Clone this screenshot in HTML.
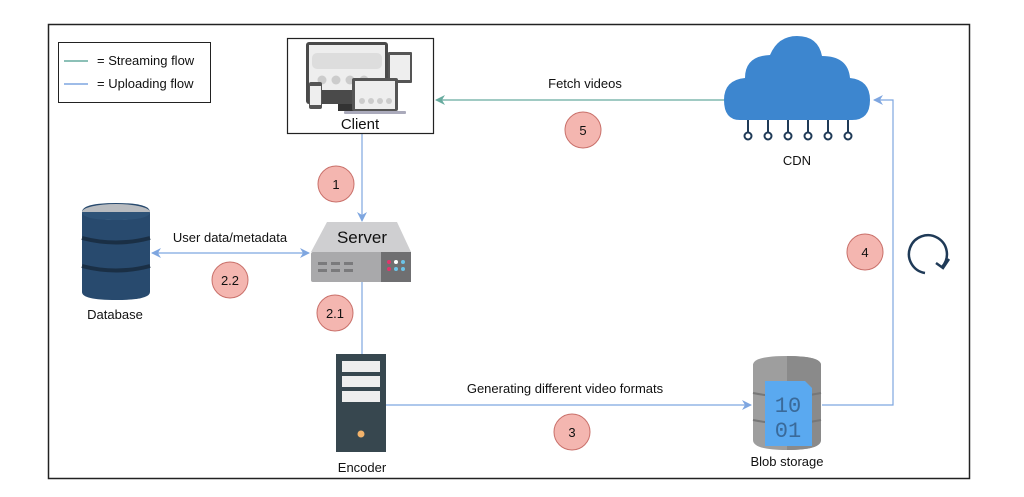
<!DOCTYPE html>
<html><head><meta charset="utf-8"><style>
body{margin:0;background:#fff;}
svg{display:block;font-family:"Liberation Sans",sans-serif;}
</style></head><body>
<svg width="1024" height="497" viewBox="0 0 1024 497" xmlns="http://www.w3.org/2000/svg">
<defs>
<marker id="ab" markerWidth="10" markerHeight="10" refX="9" refY="5" orient="auto" markerUnits="userSpaceOnUse"><path d="M0,0 L10,5 L0,10 L3,5z" fill="#7ea6e0"/></marker>
<marker id="ag" markerWidth="10" markerHeight="10" refX="9" refY="5" orient="auto" markerUnits="userSpaceOnUse"><path d="M0,0 L10,5 L0,10 L3,5z" fill="#67ab9f"/></marker>
<marker id="abs" markerWidth="10" markerHeight="10" refX="1" refY="5" orient="auto" markerUnits="userSpaceOnUse"><path d="M10,0 L0,5 L10,10 L7,5z" fill="#7ea6e0"/></marker>
</defs>
<rect x="48.5" y="24.5" width="921" height="454" fill="#fff" stroke="#222" stroke-width="1.5"/>
<rect x="58.5" y="42.5" width="152" height="60" fill="#fff" stroke="#222"/>
<line x1="64" y1="61" x2="88" y2="61" stroke="#67ab9f" stroke-width="1.5"/>
<line x1="64" y1="84" x2="88" y2="84" stroke="#7ea6e0" stroke-width="1.5"/>
<text x="97" y="65" font-size="13" fill="#111">= Streaming flow</text>
<text x="97" y="88" font-size="13" fill="#111">= Uploading flow</text>
<line x1="724" y1="100" x2="436" y2="100" stroke="#67ab9f" stroke-width="1.2" marker-end="url(#ag)"/>
<line x1="362" y1="134" x2="362" y2="221" stroke="#7ea6e0" stroke-width="1.2" marker-end="url(#ab)"/>
<line x1="152" y1="253" x2="309" y2="253" stroke="#7ea6e0" stroke-width="1.2" marker-start="url(#abs)" marker-end="url(#ab)"/>
<line x1="362" y1="282" x2="362" y2="354" stroke="#7ea6e0" stroke-width="1.2"/>
<line x1="386" y1="405" x2="751" y2="405" stroke="#7ea6e0" stroke-width="1.2" marker-end="url(#ab)"/>
<polyline points="822,405 893,405 893,100 874,100" fill="none" stroke="#7ea6e0" stroke-width="1.2" marker-end="url(#ab)"/>
<text x="585" y="88" font-size="13" text-anchor="middle" fill="#111">Fetch videos</text>
<text x="230" y="242" font-size="13" text-anchor="middle" fill="#111">User data/metadata</text>
<text x="565" y="393" font-size="13" text-anchor="middle" fill="#111">Generating different video formats</text>
<g fill="#f4b6b0" stroke="#c9706a" stroke-width="1">
<circle cx="583" cy="130" r="18"/><circle cx="336" cy="184" r="18"/><circle cx="230" cy="280" r="18"/><circle cx="335" cy="313" r="18"/><circle cx="572" cy="432" r="18"/><circle cx="865" cy="252" r="18"/>
</g>
<g font-size="13" text-anchor="middle" fill="#111">
<text x="583" y="135">5</text><text x="336" y="189">1</text><text x="230" y="285">2.2</text><text x="335" y="318">2.1</text><text x="572" y="437">3</text><text x="865" y="257">4</text>
</g>
<!-- client -->
<rect x="287.5" y="38.5" width="146" height="95" fill="#fff" stroke="#222" stroke-width="1.2"/>
<rect x="306" y="42" width="82" height="62" rx="3" fill="#4a4a4a"/>
<rect x="309" y="45" width="76" height="45" fill="#eee"/>
<rect x="312" y="53" width="70" height="16" rx="5" fill="#ddd"/>
<circle cx="322" cy="80" r="4.5" fill="#ccc"/><circle cx="336" cy="80" r="4.5" fill="#ccc"/><circle cx="350" cy="80" r="4.5" fill="#ccc"/><circle cx="364" cy="80" r="4.5" fill="#ccc"/>
<rect x="338" y="104" width="22" height="7" fill="#333"/>
<rect x="388" y="52" width="24" height="31" rx="1" fill="#555"/><rect x="390" y="55" width="20" height="25" fill="#eee"/>
<rect x="352" y="78" width="46" height="33" rx="2" fill="#555"/><rect x="355" y="81" width="40" height="28" fill="#eee"/>
<circle cx="362" cy="101" r="3" fill="#ccc"/><circle cx="371" cy="101" r="3" fill="#ccc"/><circle cx="380" cy="101" r="3" fill="#ccc"/><circle cx="389" cy="101" r="3" fill="#ccc"/>
<rect x="344" y="111" width="62" height="3" rx="1" fill="#aab"/>
<rect x="309" y="82" width="13" height="27" rx="2" fill="#555"/><rect x="310" y="86" width="11" height="19" fill="#eee"/>
<text x="360" y="129" font-size="15" text-anchor="middle" fill="#111">Client</text>
<!-- server -->
<path d="M327,222 L397,222 L411,252 L311,252 Z" fill="#cfcfd1"/>
<rect x="311" y="252" width="100" height="30" rx="2" fill="#a9a9ab"/>
<rect x="381" y="252" width="30" height="30" fill="#6f6f71"/>
<g fill="#7a7a7c"><rect x="318" y="262" width="9" height="3"/><rect x="331" y="262" width="9" height="3"/><rect x="344" y="262" width="9" height="3"/><rect x="318" y="269" width="9" height="3"/><rect x="331" y="269" width="9" height="3"/><rect x="344" y="269" width="9" height="3"/></g>
<circle cx="389" cy="262" r="2" fill="#e0366b"/><circle cx="396" cy="262" r="2" fill="#fff"/><circle cx="403" cy="262" r="2" fill="#6bc3e8"/>
<circle cx="389" cy="269" r="2" fill="#e0366b"/><circle cx="396" cy="269" r="2" fill="#6bc3e8"/><circle cx="403" cy="269" r="2" fill="#6bc3e8"/>
<text x="362" y="243" font-size="17" text-anchor="middle" fill="#111">Server</text>
<!-- database -->
<path d="M82,212 Q82,203 116,203 Q150,203 150,212 L150,292 Q150,300 116,300 Q82,300 82,292 Z" fill="#284a6e"/>
<ellipse cx="116" cy="212" rx="34" ry="8" fill="#b9bcc0"/>
<path d="M82,212 Q82,220 116,220 Q150,220 150,212" fill="#2e5378"/>
<path d="M82,238 Q116,247 150,238" stroke="#1a2f45" stroke-width="4" fill="none"/>
<path d="M82,266 Q116,275 150,266" stroke="#1a2f45" stroke-width="4" fill="none"/>
<text x="115" y="319" font-size="13" text-anchor="middle" fill="#111">Database</text>
<!-- encoder -->
<rect x="336" y="354" width="50" height="98" fill="#37474f"/>
<rect x="342" y="361" width="38" height="11" fill="#eee"/><rect x="342" y="376" width="38" height="11" fill="#eee"/><rect x="342" y="391" width="38" height="11" fill="#eee"/>
<circle cx="361" cy="434" r="3.5" fill="#f2b36b"/>
<text x="362" y="472" font-size="13" text-anchor="middle" fill="#111">Encoder</text>
<!-- blob -->
<path d="M753,365 Q753,356 787,356 Q821,356 821,365 L821,440 Q821,450 787,450 Q753,450 753,440 Z" fill="#9e9e9e"/>
<path d="M787,356 Q821,356 821,365 L821,440 Q821,450 787,450Z" fill="#8a8a8a"/>
<path d="M753,393 Q787,400 821,393 M753,420 Q787,427 821,420" stroke="#777" stroke-width="2" fill="none"/>
<path d="M765,381 L805,381 L812,388 L812,446 L765,446 Z" fill="#5aa9f0"/>
<text x="788" y="412" font-size="22" text-anchor="middle" fill="#3a6a9a" font-family="Liberation Mono,monospace">10</text>
<text x="788" y="437" font-size="22" text-anchor="middle" fill="#3a6a9a" font-family="Liberation Mono,monospace">01</text>
<text x="787" y="466" font-size="13" text-anchor="middle" fill="#111">Blob storage</text>
<!-- CDN -->
<path d="M740,120 Q724,120 724,100 Q724,80 745,78 Q745,56 770,55 Q778,36 797,36 Q818,36 822,56 Q848,56 850,78 Q870,80 870,100 Q870,120 852,120 Z" fill="#3d86cf"/>
<g stroke="#1f3a57" stroke-width="2" fill="#fff">
<line x1="748" y1="120" x2="748" y2="132"/><line x1="768" y1="120" x2="768" y2="132"/><line x1="788" y1="120" x2="788" y2="132"/><line x1="808" y1="120" x2="808" y2="132"/><line x1="828" y1="120" x2="828" y2="132"/><line x1="848" y1="120" x2="848" y2="132"/>
<circle cx="748" cy="136" r="3.5"/><circle cx="768" cy="136" r="3.5"/><circle cx="788" cy="136" r="3.5"/><circle cx="808" cy="136" r="3.5"/><circle cx="828" cy="136" r="3.5"/><circle cx="848" cy="136" r="3.5"/>
</g>
<text x="797" y="165" font-size="13" text-anchor="middle" fill="#111">CDN</text>
<path d="M942,267 A19,19 0 1 0 925,273" fill="none" stroke="#1f3a57" stroke-width="2.5"/>
<path d="M936,263 L943,268 L949,259" fill="none" stroke="#1f3a57" stroke-width="2.5"/>
</svg>
</body></html>
